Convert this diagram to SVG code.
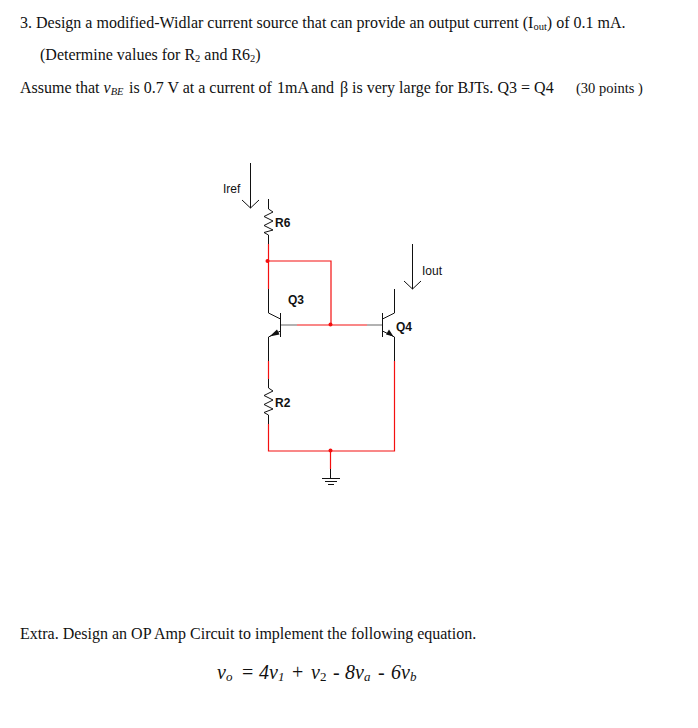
<svg xmlns="http://www.w3.org/2000/svg" width="698" height="728" viewBox="0 0 698 728">
<style>
.t{font-family:"Liberation Serif",serif;font-size:16px;fill:#111}
.s{font-size:10.5px}
.i{font-style:italic}
.e{font-family:"Liberation Serif",serif;font-size:20px;fill:#111}
.u{font-size:13px}
.l{font-family:"Liberation Sans",sans-serif;font-size:12px;fill:#111}
.b{font-weight:bold}
.k{fill:none;stroke:#111;stroke-width:1}
.r{fill:none;stroke:#f41010;stroke-width:1.2}
.g{fill:none;stroke:#666;stroke-width:1.2}
.d{fill:#f41010}
.a{fill:#111}
</style>
<rect width="698" height="728" fill="#fff"/>
<g id="text">
<text class="t" x="20" y="28">3. Design a modified-Widlar current source that can provide an output current (I<tspan class="s" dy="2">out</tspan><tspan dy="-2">) of 0.1 mA.</tspan></text>
<text class="t" x="40" y="60">(Determine values for R<tspan class="s" dy="2">2</tspan><tspan dy="-2"> and R6</tspan><tspan class="s" dy="2">2</tspan><tspan dy="-2">)</tspan></text>
<text class="t" x="20" y="93">Assume that <tspan class="i">v</tspan><tspan class="i s" dy="2">BE</tspan><tspan dy="-2" x="129">is 0.7 V at a current of</tspan><tspan x="277">1mA</tspan><tspan x="311">and</tspan><tspan x="340">β</tspan><tspan x="352">is very large for BJTs.</tspan><tspan x="497.500">Q3 = Q4</tspan></text>
<text class="t" x="576" y="93" style="font-size:14.5px">(30 points )</text>
<text class="t" x="20" y="639">Extra. Design an OP Amp Circuit to implement the following equation.</text>
<text class="e" y="679"><tspan class="i" x="217">v</tspan><tspan class="i u" x="226" dy="2">o</tspan><tspan x="242" dy="-2">=</tspan><tspan class="i" x="259">4v</tspan><tspan class="i u" x="278" dy="2">1</tspan><tspan x="292" dy="-2">+</tspan><tspan class="i" x="311">v</tspan><tspan class="u" x="320" dy="2">2</tspan><tspan x="333" dy="-2">-</tspan><tspan class="i" x="345">8v</tspan><tspan class="i u" x="364" dy="2">a</tspan><tspan x="378" dy="-2">-</tspan><tspan class="i" x="391">6v</tspan><tspan class="i u" x="410" dy="2">b</tspan></text>
</g>
<g id="connectors">
<path class="k" d="M250.500 163V208M242 200L250.500 208L259 200"/>
<path class="k" d="M412.500 244V289M404 281L412.500 289L421 281"/>
<path class="k" d="M268.500 199V209M268.500 235V244M268.500 289V313L280.500 319M280.500 331L268.500 337V361M268.500 379V388M268.500 415V424"/>
<path class="k" d="M394.500 289V313L382.500 319M382.500 331L394.500 337V361"/>
<path class="r" d="M268.500 244V289M268.500 261H331V325M297 325H367M268.500 361V379M268.500 424V451H394.500V361M330.500 451V469"/>
<path class="g" d="M281 325H297M367 325H382"/>
<path class="k" d="M330.500 469V478"/>
</g>
<g id="R6"><path class="k" d="M268.500 209L273 212L264 216.500L273 221L264 225.500L273 230L264 232.500L268.500 235"/><text class="l b" x="275" y="227">R6</text></g>
<g id="R2"><path class="k" d="M268.500 388L273 391L264 395.500L273 400L264 404.500L273 409L264 412.500L268.500 415"/><text class="l b" x="275" y="407">R2</text></g>
<g id="Q3"><path class="k" d="M280.500 313V337"/><path class="a" d="M269.500 336.500L277 329.500L279.500 334.500Z"/><text class="l b" x="288" y="304">Q3</text></g>
<g id="Q4"><path class="k" d="M382.500 313V337"/><path class="a" d="M393.500 336.500L386 334.500L389 329.500Z"/><text class="l b" x="396" y="331">Q4</text></g>
<g id="junctions"><circle class="d" cx="267.500" cy="261" r="2"/><circle class="d" cx="330.500" cy="324.500" r="2"/><circle class="d" cx="330.500" cy="450.500" r="2"/></g>
<g id="GND"><path class="k" d="M322 478.500H340M325 481.500H337M328 484.500H334"/></g>
<g id="Iref"><text class="l" x="223" y="193">Iref</text></g>
<g id="Iout"><text class="l" x="422" y="275">Iout</text></g>
</svg>
